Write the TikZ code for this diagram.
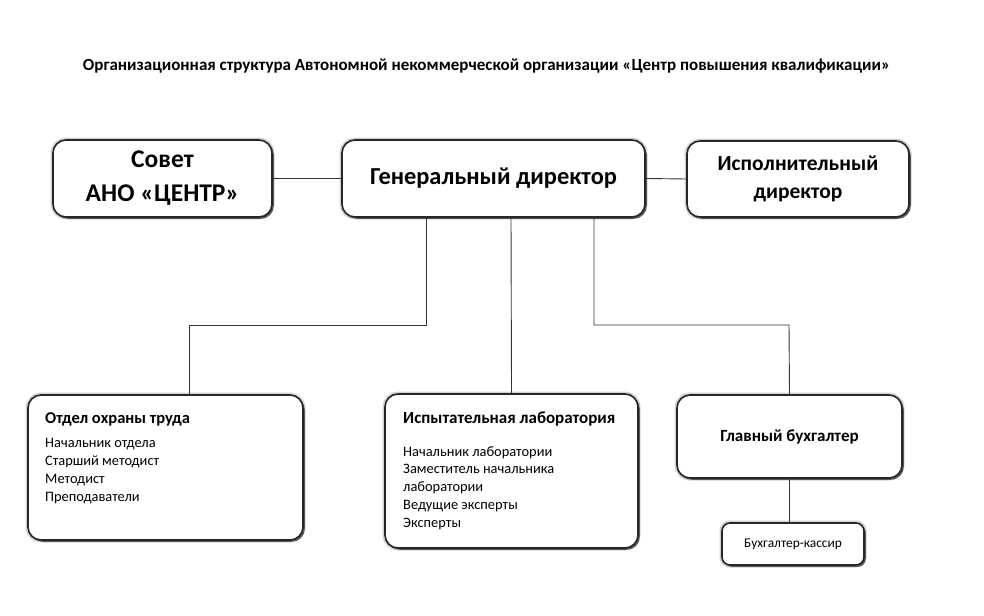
\documentclass[tikz,border=0pt]{standalone}
\usepackage{fontspec}
\setmainfont{Carlito}
\usetikzlibrary{shadows}
\begin{document}
\begin{tikzpicture}[x=1pt,y=-1pt,
  box/.style={draw=black!85, line width=1.6pt, fill=white, rounded corners=13pt,
    preaction={draw=black!18, line width=5pt},
    drop shadow={shadow xshift=1.8pt, shadow yshift=-1.8pt, fill=black!65, opacity=1},
    inner sep=0pt},
  sbox/.style={box, rounded corners=8pt},
  conn/.style={draw=black!80, line width=0.9pt},
  item/.style={anchor=base west, inner sep=0pt, font=\fontsize{14.4}{16}\selectfont},
  head/.style={anchor=base west, inner sep=0pt, font=\fontsize{16.5}{19}\selectfont\bfseries}]
\useasboundingbox (0,0) rectangle (984,615);
\node[inner sep=0pt, font=\fontsize{17}{20}\selectfont\bfseries, anchor=base] (title) at (486.5,71)
  {Организационная структура Автономной некоммерческой организации «Центр повышения квалификации»};

\node[box, minimum width=219pt, minimum height=77pt, align=center,
  font=\fontsize{25.5}{31}\selectfont\bfseries] (sovet) at (162.5,178.5) {Совет\\[3pt]АНО «ЦЕНТР»};
\node[box, minimum width=303pt, minimum height=77pt,
  font=\fontsize{24.4}{28}\selectfont\bfseries] (gen) at (493.5,178.5) {Генеральный директор};
\node[box, minimum width=222pt, minimum height=76pt, align=center,
  font=\fontsize{21.5}{27}\selectfont\bfseries] (isp) at (798,179) {Исполнительный\\[1pt]директор};

\node[box, minimum width=275pt, minimum height=145pt] (otd) at (165.5,467.5) {};
\node[box, minimum width=253pt, minimum height=154pt] (lab) at (511.5,471) {};
\node[box, minimum width=225pt, minimum height=83pt,
  font=\fontsize{17}{20}\selectfont\bfseries] (glav) at (789.5,436.5) {Главный бухгалтер};
\node[sbox, minimum width=142pt, minimum height=42pt,
  font=\fontsize{13.4}{15}\selectfont] (kas) at (793,544) {Бухгалтер-кассир};

\node[head] (otdh) at (45,423) {Отдел охраны труда};
\foreach \t [count=\i] in {Начальник отдела, Старший методист, Методист, Преподаватели}
  \node[item] (otd\i) at (45,430+\i*17.8) {\t};

\node[head, font=\fontsize{17}{20}\selectfont\bfseries] (labh) at (403,423) {Испытательная лаборатория};
\foreach \t [count=\i] in {Начальник лаборатории, Заместитель начальника, лаборатории, Ведущие эксперты, Эксперты}
  \node[item] (lab\i) at (403,438.2+\i*17.8) {\t};

\coordinate (g1) at (426,217);
\coordinate (g2) at (511,217);
\coordinate (g3) at (594,217);
\draw[conn] (sovet.east) -- (gen.west);
\draw[conn] (gen.east) -- (isp.west);
\draw[conn] (g1) |- (189,325) -- (189,395);
\draw[conn] (g2) -- (lab.north);
\draw[conn] (g3) |- (789,325) -- (glav.north);
\draw[conn] (glav.south) -- (glav.south |- kas.north);
\end{tikzpicture}
\end{document}
